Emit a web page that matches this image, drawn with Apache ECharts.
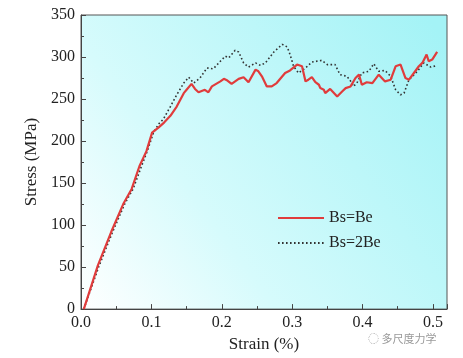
<!DOCTYPE html>
<html><head><meta charset="utf-8">
<script src="https://cdn.jsdelivr.net/npm/echarts@6/dist/echarts.min.js"></script>
<style>html,body{margin:0;padding:0;background:#fff}#c{width:463px;height:358px}</style>
</head><body><div id="c"></div>
<script>
const seriesNames = ['Bs=Be', 'Bs=2Be'];
const strainA = [0.004,0.024,0.043,0.060,0.072,0.083,0.093,0.101,0.110,0.118,0.127,0.136,0.146,0.150,0.157,0.162,0.167,0.176,0.181,0.186,0.198,0.203,0.208,0.214,0.224,0.231,0.238,0.248,0.252,0.257,0.264,0.271,0.278,0.290,0.297,0.307,0.314,0.319,0.323,0.328,0.333,0.338,0.340,0.345,0.347,0.354,0.364,0.371,0.376,0.383,0.390,0.395,0.399,0.406,0.414,0.423,0.432,0.440,0.447,0.454,0.461,0.466,0.473,0.480,0.485,0.491,0.494,0.499,0.506];
const stressA = [0,52,92,125,143,170,188,210,216,222,230,241,257,261,268,262,258,261,258,265,271,274,272,268,274,276,270,285,283,277,265,265,269,281,284,291,289,271,273,276,270,267,263,261,257,262,253,259,263,265,275,279,267,270,269,279,271,273,289,291,275,273,281,289,293,303,295,297,306];
const strainB = [0.004,0.025,0.044,0.062,0.074,0.085,0.095,0.103,0.110,0.117,0.127,0.136,0.146,0.153,0.160,0.169,0.179,0.188,0.198,0.205,0.210,0.219,0.224,0.231,0.238,0.248,0.255,0.262,0.274,0.286,0.293,0.297,0.302,0.309,0.319,0.328,0.342,0.350,0.361,0.368,0.378,0.385,0.387,0.392,0.399,0.409,0.416,0.423,0.432,0.440,0.447,0.454,0.459,0.466,0.478,0.487,0.497,0.506];
const stressB = [0,50,90,125,143,168,190,210,220,226,241,255,269,276,269,275,287,286,295,301,299,308,306,293,288,293,290,293,306,315,312,303,289,281,287,294,296,291,291,279,277,269,265,269,281,283,292,283,284,277,261,255,257,273,283,293,288,290];
const xTickLabels = ['0.0','0.1','0.2','0.3','0.4','0.5'];
const yTickLabels = ['0','50','100','150','200','250','300','350'];

const font = 'Liberation Serif';
const chart = echarts.init(document.getElementById('c'), null, {renderer:'canvas'});
const pairs = (xs, ys) => xs.map((x, i) => [x, ys[i]]);
chart.setOption({
  animation: false,
  backgroundColor: '#fff',
  grid: {
    left: 81, top: 15, right: 16, bottom: 47, show: true,
    borderColor: '#555', borderWidth: 1,
    backgroundColor: new echarts.graphic.LinearGradient(0, 1, 1, 0.1, [
      {offset: 0, color: '#ffffff'},
      {offset: 0.35, color: '#d6fbfc'},
      {offset: 1, color: '#a4f3f6'}
    ])
  },
  legend: {
    orient: 'vertical', left: 272, top: 205, itemWidth: 46, itemHeight: 10, itemGap: 9,
    itemStyle: {opacity: 0},
    textStyle: {fontFamily: font, fontSize: 16, color: '#222'},
    data: seriesNames
  },
  xAxis: {
    type: 'value', min: 0, max: 0.52, interval: 0.1,
    name: 'Strain (%)', nameLocation: 'middle', nameGap: 22,
    nameTextStyle: {fontFamily: font, fontSize: 17, color: '#222'},
    axisLine: {lineStyle: {color: '#444', width: 1}},
    axisTick: {inside: true, length: 5, lineStyle: {color: '#444'}},
    minorTick: {show: true, splitNumber: 2, length: 3, lineStyle: {color: '#444'}},
    splitLine: {show: false},
    axisLabel: {fontFamily: font, fontSize: 16, color: '#222', margin: 6, showMaxLabel: false,
      formatter: v => { const i = Math.round(v * 10); return Math.abs(v * 10 - i) < 1e-6 ? xTickLabels[i] : ''; }}
  },
  yAxis: {
    type: 'value', min: 0, max: 350, interval: 50,
    name: 'Stress (MPa)', nameLocation: 'middle', nameGap: 35,
    nameTextStyle: {fontFamily: font, fontSize: 17, color: '#222'},
    axisLine: {show: true, lineStyle: {color: '#444', width: 1}},
    axisTick: {show: true, inside: true, length: 5, lineStyle: {color: '#444'}},
    minorTick: {show: true, splitNumber: 2, length: 3, lineStyle: {color: '#444'}},
    splitLine: {show: false},
    axisLabel: {fontFamily: font, fontSize: 16, color: '#222', margin: 6,
      formatter: v => yTickLabels[Math.round(v / 50)]}
  },
  series: [
    {name: seriesNames[0], type: 'line', data: pairs(strainA, stressA), showSymbol: false, symbol: 'none',
     lineStyle: {color: '#e03c3c', width: 2.2}, itemStyle: {color: '#e03c3c'}, z: 3},
    {name: seriesNames[1], type: 'line', data: pairs(strainB, stressB), showSymbol: false, symbol: 'none',
     lineStyle: {color: '#333', width: 1.6, type: [1.6, 2.4]}, itemStyle: {color: '#333'}, z: 2}
  ],
  graphic: [
    {type: 'text', left: 368, top: 333, style: {text: '◌ 多尺度力学', fontFamily: 'Noto Sans CJK SC', fontSize: 11, fill: '#999'}}
  ]
});
</script></body></html>
